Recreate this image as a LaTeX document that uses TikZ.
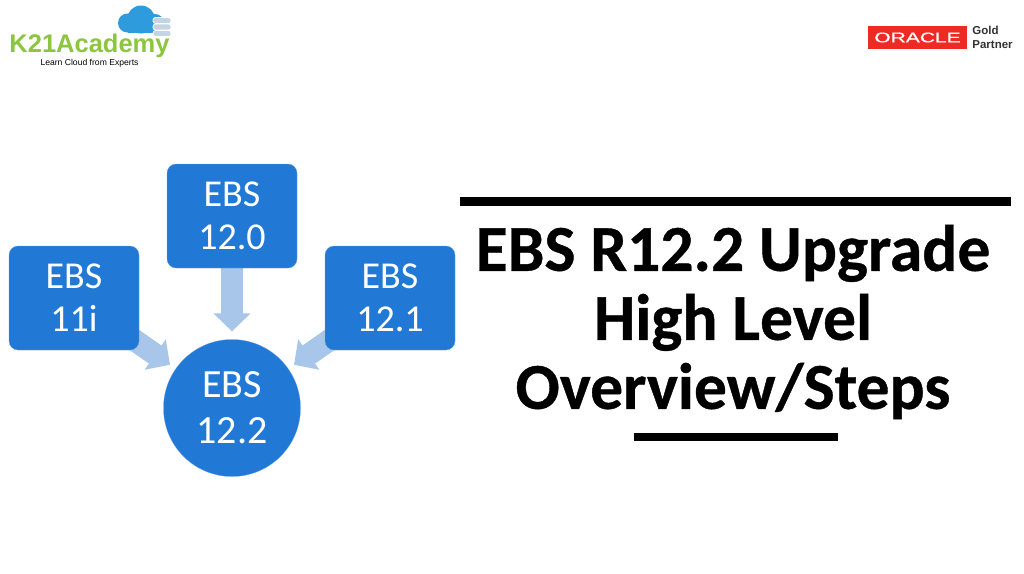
\documentclass[tikz,border=0pt]{standalone}
\usepackage{fontspec}
\usepackage{xcolor}
\usetikzlibrary{arrows.meta, positioning}
\setmainfont{Carlito}
\newfontfamily\titlefont[FakeBold=0.6]{Carlito Bold}
\newfontfamily\logofont{Liberation Sans}
\newfontfamily\oraclefont[FakeBold=0.5]{Liberation Sans}
\definecolor{ebsblue}{HTML}{2279D5}
\definecolor{ebsarrow}{HTML}{A7C6E9}
\definecolor{logogreen}{HTML}{8CC63F}
\definecolor{logocloud}{HTML}{2E9BDC}
\definecolor{logodisk}{HTML}{C4D4E2}
\definecolor{oraclered}{HTML}{EE2A24}
\pgfdeclarelayer{background}
\pgfsetlayers{background,main}
\tikzset{
	ebsbox/.style={draw=ebsblue!70!white, very thin, fill=ebsblue, rounded corners=9, minimum width=130, minimum height=104, inner sep=0, align=center, text=white, font=\fontsize{38}{43}\selectfont},
	ebscircle/.style={ebsbox, circle, minimum size=137, font=\fontsize{40}{46}\selectfont},
	ebsarrowline/.style={draw=ebsarrow, line width=22, shorten <=-12, -{Triangle[width=36,length=18,fill=ebsarrow]}},
	titleline/.style={font=\titlefont\fontsize{65.5}{69}\selectfont, inner sep=0, align=center},
	bar/.style={fill=black},
	disk/.style={draw=white, fill=logodisk, line width=0.8, rounded corners=2.5}
}
\begin{document}
\begin{tikzpicture}[x=1pt, y=-1pt]
	\useasboundingbox (0,0) rectangle (1024,573);

	\node[ebsbox] (box110) at (74,298) {\raisebox{1pt}{EBS}\\\raisebox{1pt}{11i}};
	\node[ebsbox] (box120) at (232,216) {\raisebox{1pt}{EBS}\\\raisebox{1pt}{12.0}};
	\node[ebsbox] (box121) at (390,298) {\raisebox{1pt}{EBS}\\\raisebox{1pt}{12.1}};
	\node[ebscircle] (circ122) at (232,408) {EBS\\12.2};

	% arrows go behind the boxes
	\begin{pgfonlayer}{background}
		\fill[white] (0,0) rectangle (1024,573);
		\draw[ebsarrowline, shorten >=7] (box110) -- (circ122);
		\draw[ebsarrowline, shorten >=8] (box120) -- (circ122);
		\draw[ebsarrowline, shorten >=7] (box121) -- (circ122);
	\end{pgfonlayer}

	% title
	\fill[bar] (460,197) rectangle (1011,206);
	\node[titleline] (title) at (733,322) {EBS R12.2 Upgrade\\High Level\\Overview/Steps};
	\fill[bar] (634,433) rectangle (838,441);

	% k21 logo
	\fill[logocloud] (127.5,23) circle (9.5) (141,19.5) circle (14) (155,23) circle (9);
	\fill[logocloud] (127.5,24) rectangle (156,32.5);
	\foreach \yy in {17.5,24,30.5}
		\filldraw[disk] (153,\yy) rectangle (171,\yy+6);
	\node[font=\logofont\bfseries\fontsize{25.5}{26}\selectfont, text=logogreen, inner sep=0, anchor=base] (k21) at (89.5,52) {K21Academy};
	\node[font=\logofont\fontsize{8.6}{9}\selectfont, inner sep=0, anchor=base] (tagline) at (89.5,65) {Learn Cloud from Experts};

	% oracle logo
	\node[fill=oraclered, text=white, font=\oraclefont\fontsize{14}{14}\selectfont, minimum width=99, minimum height=23, inner sep=0] (oracle) at (917.5,37.5) {\scalebox{1.5}[1]{ORACLE}};
	\node[font=\logofont\bfseries\fontsize{11.5}{13.5}\selectfont, text=black!80, align=left, inner sep=0, right=5 of oracle] (partner) {Gold\\Partner};
\end{tikzpicture}
\end{document}
